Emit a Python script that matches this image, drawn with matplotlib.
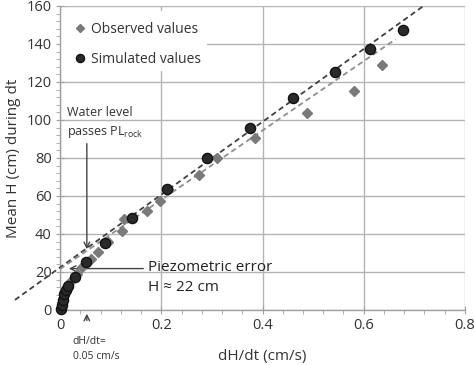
import matplotlib
matplotlib.use("Agg")
import matplotlib.pyplot as plt
from matplotlib.ticker import MultipleLocator

plt.rcParams['font.family'] = ['Open Sans', 'DejaVu Sans']

# Observed values (diamonds)
obs_x = [0.002, 0.006, 0.012, 0.022, 0.033, 0.043, 0.061, 0.075, 0.094, 0.122,
         0.127, 0.172, 0.198, 0.213, 0.275, 0.311, 0.385, 0.488, 0.581, 0.637]
obs_y = [1, 5, 10, 15, 19, 22.8, 27, 30.7, 36, 41.5,
         47.7, 52.3, 57.4, 63.5, 71, 80, 90.7, 103.5, 115, 129]

# Simulated values (circles)
sim_x = [0.001, 0.003, 0.005, 0.008, 0.011, 0.016, 0.030, 0.052, 0.089, 0.142,
         0.211, 0.290, 0.375, 0.461, 0.543, 0.612, 0.677]
sim_y = [0.5, 2.8, 5.5, 8.5, 10.5, 12.5, 17.5, 25, 35.5, 48.5,
         63.5, 80, 96, 111.5, 125.5, 137.5, 147.5]

# Linear fit lines (end points)
sim_fit_x = [-0.089, 0.718]
sim_fit_y = [5.3, 160]
obs_fit_x = [0.0, 0.663]
obs_fit_y = [21.5, 142.5]

x_ticks = [0, 0.2, 0.4, 0.6, 0.8]
x_ticklabels = ['0', '0.2', '0.4', '0.6', '0.8']
y_ticks = [0, 20, 40, 60, 80, 100, 120, 140, 160]

fig = plt.figure(figsize=(4.74, 3.65), dpi=100)
ax = fig.add_axes([0.1266, 0.1507, 0.8544, 0.8329])

grid_c = '#b4b4b4'
ax.set_xlim(0, 0.8)
ax.set_ylim(0, 160)
ax.set_xticks(x_ticks)
ax.set_xticklabels(x_ticklabels)
ax.set_yticks(y_ticks)
ax.xaxis.set_minor_locator(MultipleLocator(0.04))
ax.yaxis.set_minor_locator(MultipleLocator(4))
ax.grid(True, which='major', color=grid_c, linewidth=1.0)
ax.set_axisbelow(True)
for s in ['top', 'right']:
    ax.spines[s].set_visible(False)
for s in ['left', 'bottom']:
    ax.spines[s].set_color('#a0a0a0')
    ax.spines[s].set_linewidth(1.0)
ax.tick_params(which='major', direction='inout', length=6, color='#a0a0a0',
               labelsize=10.5, labelcolor='#333333', pad=3)
ax.tick_params(which='minor', direction='out', length=3, color='#a0a0a0')

# white legend background box
ax.add_patch(plt.Rectangle((0.002, 126), 0.288, 31.5, facecolor='white',
                           edgecolor='none', zorder=1.5))

ax.plot(sim_fit_x, sim_fit_y, linestyle=(0, (3, 2)), color='#404040',
        linewidth=1.3, clip_on=False, zorder=3)
ax.plot(obs_fit_x, obs_fit_y, linestyle=(0, (3, 2)), color='#8e8e8e',
        linewidth=1.3, zorder=3)

ax.plot(obs_x, obs_y, linestyle='none', marker='D', markersize=5.5,
        color='#7a7a7a', markeredgecolor='#7a7a7a', zorder=4, clip_on=False,
        label='Observed values')
ax.plot(sim_x, sim_y, linestyle='none', marker='o', markersize=7.3,
        color='#2a2a2a', markeredgecolor='#111111', zorder=5, clip_on=False,
        label='Simulated values')

leg = ax.legend(loc='upper left', bbox_to_anchor=(0.0, 0.98), frameon=False,
                fontsize=10, handletextpad=0.05, labelspacing=1.1,
                handlelength=1.5, borderaxespad=0.3, markerscale=0.8)
for t in leg.get_texts():
    t.set_color('#333333')

ax.set_xlabel('dH/dt (cm/s)', fontsize=11, color='#333333', labelpad=11)
ax.set_ylabel('Mean H (cm) during dt', fontsize=11, color='#333333', labelpad=4)

# Annotations
ax.text(0.014, 104, 'Water level', fontsize=9, color='#333333', va='center')
ax.text(0.014, 93.5, r'passes PL$_{\mathregular{rock}}$', fontsize=9,
        color='#333333', va='center')
ax.annotate('', xy=(0.053, 30.5), xytext=(0.053, 89),
            arrowprops=dict(arrowstyle='->', color='#444444', lw=1.0))

ax.text(0.173, 22.5, 'Piezometric error', fontsize=11, color='#222222',
        va='center')
ax.text(0.173, 12, 'H \u2248 22 cm', fontsize=11, color='#222222',
        va='center')
ax.annotate('', xy=(0.012, 21.8), xytext=(0.170, 21.8),
            arrowprops=dict(arrowstyle='->', color='#444444', lw=1.0))

ax.annotate('', xy=(0.053, -0.5), xytext=(0.053, -7),
            arrowprops=dict(arrowstyle='->', color='#444444', lw=1.0),
            annotation_clip=False)
ax.text(0.025, -16.5, 'dH/dt=', fontsize=7.5, color='#333333', va='center',
        clip_on=False)
ax.text(0.025, -24.5, '0.05 cm/s', fontsize=7.5, color='#333333', va='center',
        clip_on=False)

fig.savefig('out.png', dpi=100)
